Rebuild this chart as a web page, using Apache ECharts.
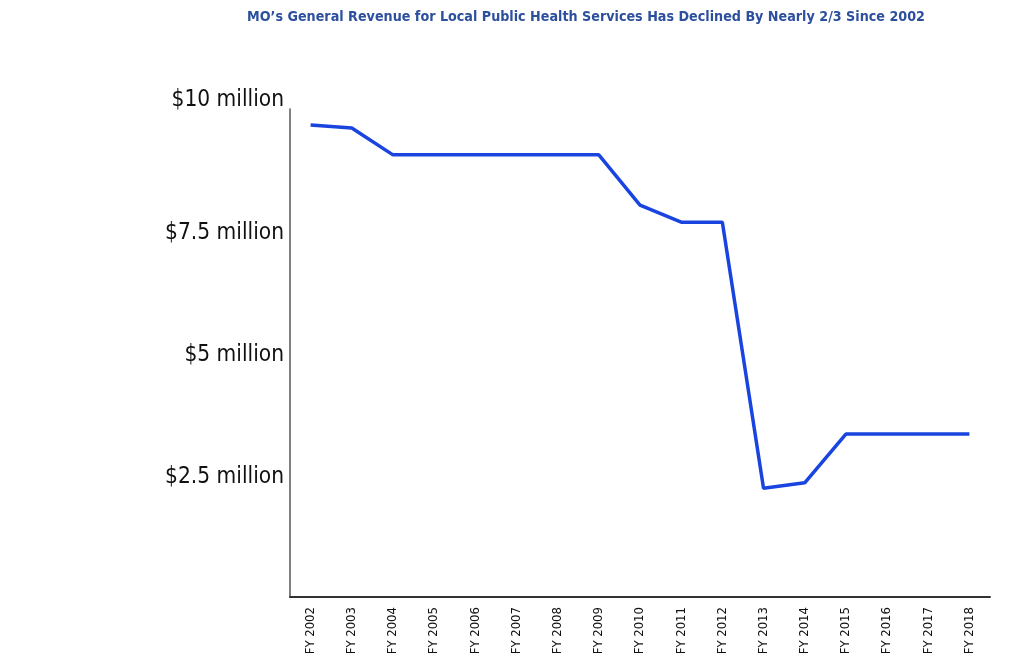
<!DOCTYPE html>
<html><head><meta charset="utf-8">
<script src="https://cdn.jsdelivr.net/npm/echarts@6/dist/echarts.min.js"></script>
<style>html,body{margin:0;padding:0;background:#fff}#c{width:1024px;height:656px}</style>
</head><body><div id="c"></div>
<script>
const titleText = "MO\u2019s General Revenue for Local Public Health Services Has Declined By Nearly 2/3 Since 2002";
const categories = ["FY 2002","FY 2003","FY 2004","FY 2005","FY 2006","FY 2007","FY 2008","FY 2009","FY 2010","FY 2011","FY 2012","FY 2013","FY 2014","FY 2015","FY 2016","FY 2017","FY 2018"];
const revenueMillions = [9.67,9.61,9.06,9.06,9.06,9.06,9.06,9.06,8.03,7.68,7.68,2.23,2.34,3.34,3.34,3.34,3.34];
const tickLabels = {"2.5":"$2.5 million","5":"$5 million","7.5":"$7.5 million","10":"$10 million"};
const FONT = '"DejaVu Sans Condensed","Liberation Sans Narrow",sans-serif';

const chart = echarts.init(document.getElementById('c'), null, {renderer:'canvas'});
chart.setOption({
  animation:false,
  backgroundColor:'#fff',
  title:{
    text:titleText, left:581, textAlign:'center', top:5,
    textStyle:{fontFamily:FONT, fontWeight:'bold', fontSize:14.2, color:'#2c4f9e'}
  },
  grid:{left:290, right:34, top:109, bottom:59, containLabel:false, outerBoundsMode:'none'},
  xAxis:{
    type:'category', data:categories, boundaryGap:true,
    axisLine:{lineStyle:{color:'#333', width:2}},
    axisTick:{show:false},
    axisLabel:{rotate:90, interval:0, margin:10, fontFamily:FONT, fontSize:13, color:'#111'}
  },
  yAxis:{
    type:'value', min:0, max:10, interval:2.5,
    axisLine:{show:true, lineStyle:{color:'#555', width:1.5}},
    axisTick:{show:false},
    splitLine:{show:false},
    axisLabel:{
      margin:6, fontFamily:FONT, fontSize:22.5, color:'#111',
      formatter:function(v){
        const t = tickLabels[String(v)];
        if(!t) return '';
        if(v===10) return '{top|'+t+'}';
        return '{n|'+t+'}';
      },
      rich:{
        top:{fontFamily:FONT, fontSize:22.5, color:'#111', padding:[0,0,18,0]},
        n:{fontFamily:FONT, fontSize:22.5, color:'#111', padding:[4,0,0,0]}
      }
    }
  },
  series:[{
    type:'line', data:revenueMillions, symbol:'none',
    lineStyle:{color:'#1a44e0', width:3.5}
  }]
});
</script></body></html>
